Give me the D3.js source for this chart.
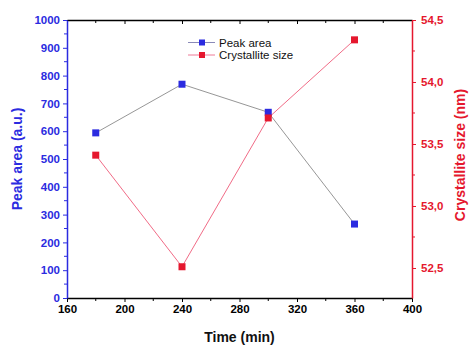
<!DOCTYPE html>
<html><head><meta charset="utf-8">
<script src="https://cdn.jsdelivr.net/npm/d3@7"></script>
<style>body{margin:0;background:#fff}svg{display:block}text{font-family:"Liberation Sans",Arial,sans-serif}</style>
</head><body><svg id="c" width="474" height="351"></svg>
<script>
const times = [180, 240, 300, 360];
const peakArea = [594, 769, 668, 266];
const crystSize = [53.41, 52.51, 53.71, 54.34];
const xTicks = [160, 200, 240, 280, 320, 360, 400];
const yLeftTicks = [0,100,200,300,400,500,600,700,800,900,1000];
const yRightTicks = [52.5, 53.0, 53.5, 54.0, 54.5];
const seriesNames = ["Peak area", "Crystallite size"];

const BLUE = "#2b2be0", RED = "#e5172e";
const m = {l:67, r:412, t:20, b:298};
const svg = d3.select("#c");
const x = d3.scaleLinear().domain([160,400]).range([m.l,m.r]);
const yL = d3.scaleLinear().domain([0,1000]).range([m.b,m.t]);
const yR = d3.scaleLinear().domain([52.258,54.5]).range([m.b,m.t]);

function styleAxis(g, color){
  g.selectAll("path").attr("stroke",color).attr("stroke-width",1.5);
  g.selectAll("line").attr("stroke",color).attr("stroke-width",1);
  g.selectAll("text").attr("fill",color).attr("font-size","11.5px").attr("font-weight","bold");
}
const xMinor = d3.range(180,400,40);
const yLMinor = d3.range(50,1000,100);
const yRMinor = [52.75,53.25,53.75,54.25];

const gb = svg.append("g").attr("transform",`translate(0,${m.b})`)
  .call(d3.axisBottom(x).tickValues(xTicks).tickSize(4).tickSizeOuter(0).tickPadding(3).tickFormat(d3.format("d")));
styleAxis(gb,"#000");
gb.selectAll(".minor").data(xMinor).enter().append("line").attr("class","minor")
  .attr("x1",d=>x(d)).attr("x2",d=>x(d)).attr("y1",0).attr("y2",3).attr("stroke","#000");
const gt = svg.append("g").attr("transform",`translate(0,${m.t})`)
  .call(d3.axisTop(x).tickValues(xTicks).tickSize(-4).tickSizeOuter(0).tickFormat(""));
styleAxis(gt,"#000");
gt.selectAll(".minor").data(xMinor).enter().append("line").attr("class","minor")
  .attr("x1",d=>x(d)).attr("x2",d=>x(d)).attr("y1",0).attr("y2",3).attr("stroke","#000");
const gl = svg.append("g").attr("transform",`translate(${m.l},0)`)
  .call(d3.axisLeft(yL).tickValues(yLeftTicks).tickSize(4).tickSizeOuter(0).tickPadding(3).tickFormat(d3.format("d")));
styleAxis(gl,BLUE);
gl.selectAll(".minor").data(yLMinor).enter().append("line").attr("class","minor")
  .attr("y1",d=>yL(d)).attr("y2",d=>yL(d)).attr("x1",0).attr("x2",-3).attr("stroke",BLUE);
const gr = svg.append("g").attr("transform",`translate(${m.r},0)`)
  .call(d3.axisRight(yR).tickValues(yRightTicks).tickSize(4).tickSizeOuter(0).tickPadding(5)
    .tickFormat(d=>d3.format(".1f")(d).replace(".",",")));
styleAxis(gr,RED);
gr.selectAll(".minor").data(yRMinor).enter().append("line").attr("class","minor")
  .attr("y1",d=>yR(d)).attr("y2",d=>yR(d)).attr("x1",0).attr("x2",3).attr("stroke",RED);

const dataA = times.map((t,i)=>({t,v:peakArea[i]}));
const dataC = times.map((t,i)=>({t,v:crystSize[i]}));
svg.append("path").datum(dataA).attr("fill","none").attr("stroke","#8a8a8a").attr("stroke-width",0.9)
  .attr("d",d3.line().x(d=>x(d.t)).y(d=>yL(d.v)));
svg.append("path").datum(dataC).attr("fill","none").attr("stroke","#ee5a78").attr("stroke-width",0.9)
  .attr("d",d3.line().x(d=>x(d.t)).y(d=>yR(d.v)));
const s=7;
svg.selectAll(".mA").data(dataA).enter().append("rect").attr("x",d=>x(d.t)-s/2).attr("y",d=>yL(d.v)-s/2)
  .attr("width",s).attr("height",s).attr("fill",BLUE);
svg.selectAll(".mC").data(dataC).enter().append("rect").attr("x",d=>x(d.t)-s/2).attr("y",d=>yR(d.v)-s/2)
  .attr("width",s).attr("height",s).attr("fill",RED);

const leg = [{n:seriesNames[0],lc:"#8a8ab8",mc:BLUE,y:42.5},{n:seriesNames[1],lc:"#ee7a98",mc:RED,y:55}];
leg.forEach(d=>{
  svg.append("line").attr("x1",188).attr("x2",215).attr("y1",d.y).attr("y2",d.y).attr("stroke",d.lc).attr("stroke-width",1);
  svg.append("rect").attr("x",202-3).attr("y",d.y-3).attr("width",6).attr("height",6).attr("fill",d.mc);
  svg.append("text").attr("x",219).attr("y",d.y+4).attr("font-size","11.5px").attr("fill","#111").text(d.n);
});

svg.append("text").attr("x",x(280)).attr("y",342).attr("text-anchor","middle")
  .attr("font-size","14px").attr("font-weight","bold").attr("fill","#111").text("Time (min)");
svg.append("text").attr("transform",`translate(22,${(m.t+m.b)/2}) rotate(-90)`).attr("text-anchor","middle")
  .attr("font-size","14px").attr("font-weight","bold").attr("fill",BLUE).text("Peak area (a.u.)");
svg.append("text").attr("transform",`translate(465,155) rotate(-90)`).attr("text-anchor","middle")
  .attr("font-size","14px").attr("font-weight","bold").attr("fill",RED).text("Crystallite size (nm)");
</script></body></html>
